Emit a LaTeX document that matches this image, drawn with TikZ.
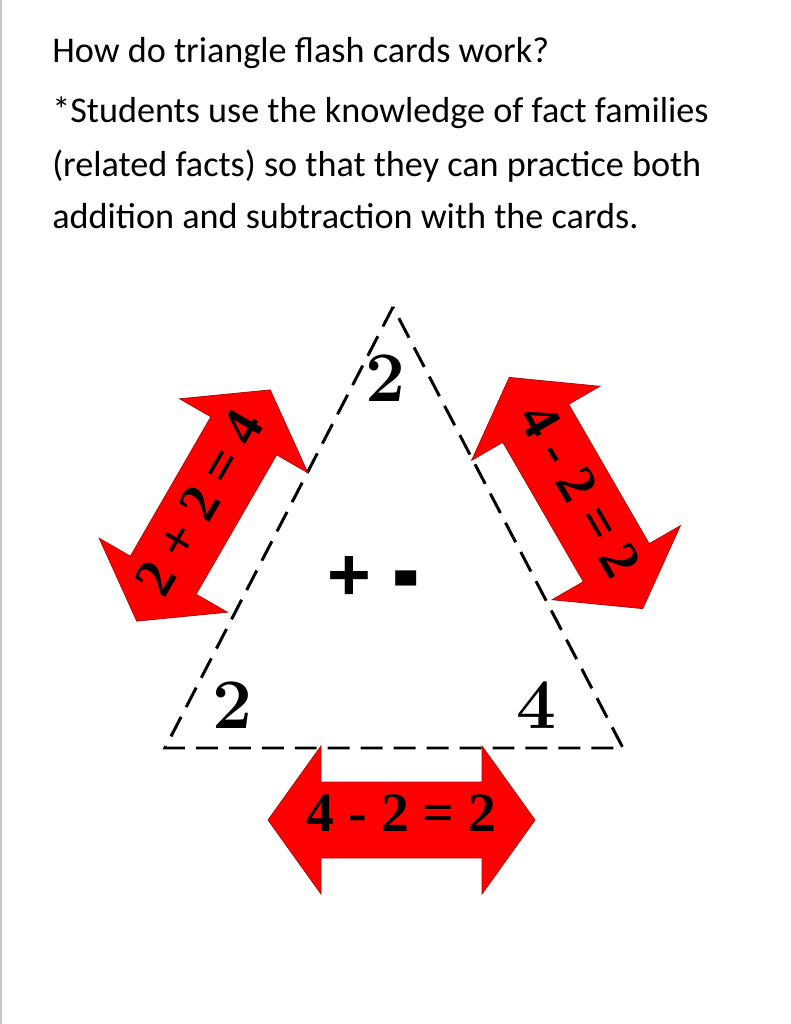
\documentclass[tikz,border=0pt]{standalone}
\usepackage{fontspec}
\newfontfamily\headfont{Carlito}
\newfontfamily\cardfont{Liberation Serif}
\newfontfamily\signfont{Liberation Sans}

\definecolor{arrowred}{RGB}{255,0,0}
\definecolor{arrowrim}{RGB}{170,10,10}

\tikzset{
  cardedge/.style={line width=2.3pt, dash pattern=on 17pt off 8.5pt},
  factarrow/.style={fill=arrowred, draw=arrowrim, line width=0.6pt, line join=miter},
  cardnum/.style={inner sep=0pt, font=\fontsize{55}{55}\selectfont\bfseries},
  arrowtext/.style={inner sep=0pt, transform shape, font=\fontsize{43}{43}\selectfont\cardfont\bfseries}
}

\begin{document}
\begin{tikzpicture}[x=0.7737pt, y=-0.7737pt]

        \useasboundingbox (0,0) rectangle (791,1024);
        \draw[gray!45, line width=1.2pt] (0.8,0) -- (0.8,1024);

        % question and answer
        \begin{scope}[every node/.style={anchor=base west, inner sep=0pt, font=\fontsize{28}{32}\selectfont\headfont}]
          \node (question) at (52,62)    {How do triangle flash cards work?};
          \node (answer1)  at (52,122.5) {*Students use the knowledge of fact families};
          \node (answer2)  at (52,176)   {(related facts) so that they can practice both};
          \node (answer3)  at (52,228)   {addition and subtraction with the cards.};
        \end{scope}

        % the card
        \coordinate (top)   at (393,307);
        \coordinate (left)  at (165,748);
        \coordinate (right) at (623,748);
        \draw[cardedge] (top) -- (left) -- (right) -- cycle;

        \node[cardnum] (ntop)   at (386,378) {2};
        \node[cardnum] (nleft)  at (233,705) {2};
        \node[cardnum] (nright) at (537,705) {4};
        \node[anchor=base, inner sep=0pt, font=\fontsize{58}{58}\selectfont\signfont\bfseries] (signs) at (374,600)
          {+ \raisebox{-0.15em}{\scalebox{1.1}[1.7]{-}}};

        % related facts
        \begin{scope}[shift={(203.5,505.5)}, rotate=60]
          \draw[factarrow] (133.5,0) -- (80.5,74) -- (80.5,38) -- (-80.5,38) -- (-80.5,74) -- (-133.5,0)
            -- (-80.5,-74) -- (-80.5,-38) -- (80.5,-38) -- (80.5,-74) -- cycle;
          \node[arrowtext] (factleft) at (0,-5) {2 + 2 = 4};
        \end{scope}

        \begin{scope}[shift={(576,493)}, rotate=-60]
          \draw[factarrow] (133.5,0) -- (80.5,74) -- (80.5,38) -- (-80.5,38) -- (-80.5,74) -- (-133.5,0)
            -- (-80.5,-74) -- (-80.5,-38) -- (80.5,-38) -- (80.5,-74) -- cycle;
          \node[arrowtext] (factright) at (0,-5) {4 - 2 = 2};
        \end{scope}

        \begin{scope}[shift={(401.5,820)}]
          \draw[factarrow] (133.5,0) -- (80.5,74) -- (80.5,38) -- (-80.5,38) -- (-80.5,74) -- (-133.5,0)
            -- (-80.5,-74) -- (-80.5,-38) -- (80.5,-38) -- (80.5,-74) -- cycle;
          \node[arrowtext] (factbottom) at (0,-7) {4 - 2 = 2};
        \end{scope}

      \end{tikzpicture}
\end{document}
